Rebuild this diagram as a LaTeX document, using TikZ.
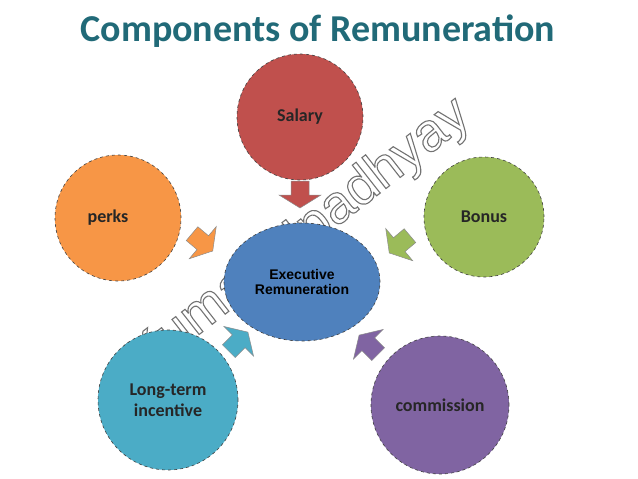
\documentclass[tikz,border=0pt]{standalone}
\usepackage{fontspec}
\setmainfont{Carlito}
\newfontfamily\arialf{Liberation Sans}
\usetikzlibrary{shapes.geometric}
\definecolor{titlec}{HTML}{216A78}
\definecolor{cred}{HTML}{C0504D}
\definecolor{cgreen}{HTML}{9BBB59}
\definecolor{corange}{HTML}{F79646}
\definecolor{cblue}{HTML}{4F81BD}
\definecolor{ccyan}{HTML}{4BACC6}
\definecolor{cpurple}{HTML}{8064A2}
\newcommand\outlinetext[1]{\special{pdf:literal direct 1 Tr 1.1 w}#1\special{pdf:literal direct 0 Tr}}
\tikzset{
  bubble/.style={circle, draw=black!75, dashed, line width=0.6pt, inner sep=0pt, font=\fontsize{18}{21}\selectfont\bfseries, text=black!85, align=center},
  blockarrow/.pic={\draw[draw=black!45, line width=0.5pt, fill=#1] (-13,-9) -- (1,-9) -- (1,-21) -- (14,0) -- (1,21) -- (1,9) -- (-13,9) -- cycle;}
}
\begin{document}
\begin{tikzpicture}[x=1pt,y=-1pt]
\useasboundingbox (0,0) rectangle (638,479);
\node (title) at (318,31) {\fontsize{38}{41}\selectfont\bfseries\color{titlec}Components of Remuneration};
\node[rotate=38, font=\arialf\fontsize{54}{54}\selectfont, text=black!55] (wm) at (300,238) {\outlinetext{Kumar Upadhyay}};
\node[bubble, fill=cred, minimum size=126pt] (salary) at (300,117) {Salary};
\node[bubble, fill=cgreen, minimum size=120pt] (bonus) at (484,217) {Bonus};
\node[bubble, fill=corange, minimum size=126pt] (perks) at (118,218) {\hspace*{-20pt}perks};
\node[bubble, fill=ccyan, minimum size=140pt] (lt) at (168,400) {Long-term\\incentive};
\node[bubble, fill=cpurple, minimum size=138pt] (comm) at (440,405) {commission};
\node[ellipse, draw=black!75, dashed, line width=0.6pt, fill=cblue, minimum width=156pt, minimum height=118pt, align=center, font=\arialf\bfseries\fontsize{14}{15}\selectfont] (exec) at (302,282) {Executive\\Remuneration};
\pic[rotate=-90] (a1) at (300,194) {blockarrow=cred};
\pic[rotate=-40] (a2) at (202,242) {blockarrow=corange};
\pic[rotate=-140] (a3) at (400,244) {blockarrow=cgreen};
\pic[rotate=45] (a4) at (238,342) {blockarrow=ccyan};
\pic[rotate=135] (a5) at (369,345) {blockarrow=cpurple};
\end{tikzpicture}
\end{document}
